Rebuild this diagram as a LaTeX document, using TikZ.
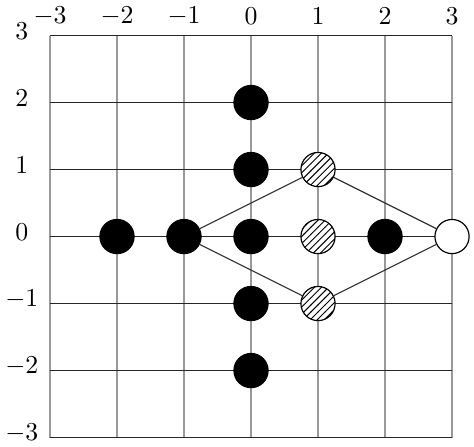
\documentclass[tikz,border=0pt]{standalone}
\usetikzlibrary{patterns}
\tikzset{
  stone/.style={circle,draw=black,line width=0.5pt,minimum size=0.51cm,inner sep=0pt},
  blackstone/.style={stone,fill=black},
  hatchstone/.style={stone,fill=white,postaction={pattern=north east lines}},
  whitestone/.style={stone,fill=white},
  link/.style={draw=black!80,line width=0.5pt},
  axnum/.style={font=\fontsize{10.5}{12}\selectfont,inner sep=0pt}
}
\begin{document}
\begin{tikzpicture}
\useasboundingbox (-3.746,-3.13) rectangle (3.328,3.53);
% grid
\draw[gray!80,line width=0.5pt] (-3,-3) grid (3,3);
\foreach \y in {-3,...,3} \draw[black!85,line width=0.55pt] (-3,\y) -- (3,\y);
% axis numbers
\foreach \x in {-3,...,3} \draw (\x,3.29) node[axnum] {$\x$};
\foreach \y in {-3,...,3} \draw (-3.42,\y+0.07) node[axnum] {$\y$};

\node[blackstone] (n02) at (0,2) {};
\node[blackstone] (n01) at (0,1) {};
\node[blackstone] (m20) at (-2,0) {};
\node[blackstone] (m10) at (-1,0) {};
\node[blackstone] (n00) at (0,0) {};
\node[blackstone] (p20) at (2,0) {};
\node[blackstone] (n0m1) at (0,-1) {};
\node[blackstone] (n0m2) at (0,-2) {};

\node[hatchstone] (p11) at (1,1) {};
\node[hatchstone] (p10) at (1,0) {};
\node[hatchstone] (p1m1) at (1,-1) {};

\node[whitestone] (p30) at (3,0) {};

\draw[link] (m10) -- (p11);
\draw[link] (m10) -- (p1m1);
\draw[link] (p11) -- (p30);
\draw[link] (p1m1) -- (p30);
\end{tikzpicture}
\end{document}
